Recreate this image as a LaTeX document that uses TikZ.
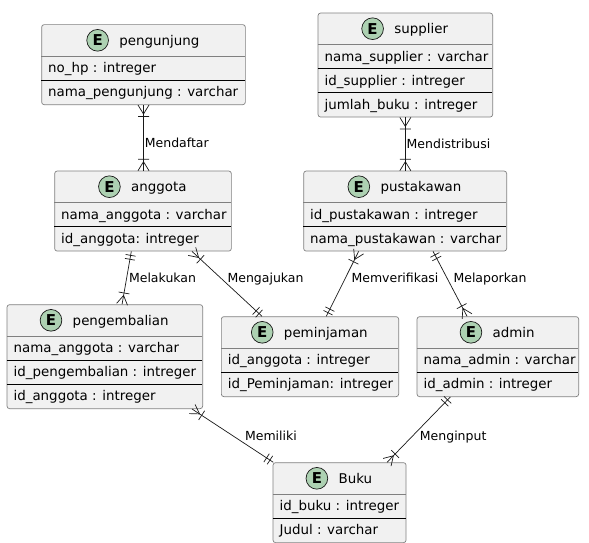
\documentclass[tikz,border=0pt]{standalone}
\usepackage{fontspec}
\setmainfont{DejaVu Sans}
\usetikzlibrary{arrows,shapes,decorations.markings}
\definecolor{boxfill}{HTML}{F1F1F1}
\definecolor{badgefill}{HTML}{ADD1B2}
\definecolor{linecol}{HTML}{181818}
\tikzstyle{entity}=[draw=black!50,fill=boxfill,line width=0.7pt,rounded corners=2.5pt,anchor=north west,inner sep=0pt]
\tikzstyle{headsep}=[draw=black!50,line width=0.7pt]
\tikzstyle{rowsep}=[draw=black,line width=0.8pt]
\tikzstyle{etitle}=[anchor=base,inner sep=0pt,font=\fontsize{13.4}{16}\selectfont]
\tikzstyle{badge}=[circle,draw=linecol,fill=badgefill,minimum size=21.7pt,inner sep=0pt,line width=0.7pt,font=\fontsize{15}{18}\selectfont\bfseries]
\tikzstyle{attr}=[anchor=base west,inner sep=0pt,font=\fontsize{13.4}{16}\selectfont]
\tikzstyle{rel}=[draw=linecol,line width=0.7pt]
\tikzstyle{lab}=[anchor=west,inner sep=0pt,text height=9pt,text depth=0pt,font=\fontsize{12.5}{15}\selectfont]
\tikzstyle{manyA}=[postaction={decorate,decoration={markings,mark=at position 0 with {\draw[rel] (9,0) -- (0,5.5) (9,0) -- (0,-5.5) (11.5,-5.5) -- (11.5,5.5);}}}]
\tikzstyle{manyB}=[postaction={decorate,decoration={markings,mark=at position 1 with {\draw[rel] (-9,0) -- (0,5.5) (-9,0) -- (0,-5.5) (-11.5,-5.5) -- (-11.5,5.5);}}}]
\tikzstyle{oneA}=[postaction={decorate,decoration={markings,mark=at position 0 with {\draw[rel] (4,-5) -- (4,5) (8,-5) -- (8,5);}}}]
\tikzstyle{oneB}=[postaction={decorate,decoration={markings,mark=at position 1 with {\draw[rel] (-4,-5) -- (-4,5) (-8,-5) -- (-8,5);}}}]

\begin{document}
\begin{tikzpicture}[x=1pt,y=-1pt]
    \useasboundingbox (0,0) rectangle (589,543);
    % First we draw the entities with their fields
    \foreach \name/\x/\y/\w/\n/\rows in {
        pengunjung/41.3/24.3/203.7/2/{no\_hp : intreger, nama\_pengunjung : varchar},
        supplier/317.7/12.7/174.6/3/{nama\_supplier : varchar, id\_supplier : intreger, jumlah\_buku : intreger},
        anggota/54.3/170.7/176.7/2/{nama\_anggota : varchar, id\_anggota: intreger},
        pustakawan/303.3/170.7/203/2/{id\_pustakawan : intreger, nama\_pustakawan : varchar},
        pengembalian/6.7/304.3/195.6/3/{nama\_anggota : varchar, id\_pengembalian : intreger, id\_anggota : intreger},
        peminjaman/221/316.3/177.3/2/{id\_anggota : intreger, id\_Peminjaman: intreger},
        admin/416.7/316.3/161.6/2/{nama\_admin : varchar, id\_admin : intreger},
        Buku/272.7/462.3/133/2/{id\_buku : intreger, Judul : varchar}}
    {
        \node[entity,minimum width=\w pt,minimum height={32pt+24pt*\n}] (\name) at (\x,\y) {};
        \draw[headsep] (\name.north west) ++(0,32) -- ++(\w,0);
        \foreach \i in {2,...,\n}
            \draw[rowsep] (\name.north west) ++(0,8+24*\i) -- ++(\w,0);
        \node[etitle] (\name-t) at (\x+\w/2,\y+21) {\hspace*{32.4pt}\name};
        \node[badge] (\name-c) at ([xshift=10.85pt,yshift=5pt]\name-t.base west) {E};
        \foreach \row [count=\i] in \rows
            \node[attr] (\name-\i) at (\x+6.7,\y+24*\i+24.4) {\row};
    }

    % Connect entities with relations
    \draw[rel,manyA,manyB] (pengunjung.south) -- (pengunjung.south |- anggota.north) node[lab,pos=0.585,xshift=1pt] {Mendaftar};
    \draw[rel,manyA,manyB] (supplier.south) -- (supplier.south |- pustakawan.north) node[lab,pos=0.49,xshift=1pt] {Mendistribusi};
    \draw[rel,oneA,manyB] ([xshift=-11.7pt]anggota.south) -- ([xshift=17.2pt]pengembalian.north) node[lab,pos=0.5,xshift=2pt] {Melakukan};
    \draw[rel,manyA,oneB] ([xshift=49pt]anggota.south) -- ([xshift=-48pt]peminjaman.north) node[lab,pos=0.41,xshift=6.5pt] {Mengajukan};
    \draw[rel,manyA,oneB] ([xshift=-46.5pt]pustakawan.south) -- ([xshift=16.3pt]peminjaman.north) node[lab,pos=0.41,xshift=5.8pt] {Memverifikasi};
    \draw[rel,oneA,manyB] ([xshift=27.9pt]pustakawan.south) -- ([xshift=-30.8pt]admin.north) node[lab,pos=0.41,xshift=6.2pt] {Melaporkan};
    \draw[rel,manyA,oneB] ([xshift=87.2pt]pengembalian.south) -- ([xshift=0.6pt]Buku.north west) node[lab,pos=0.507,xshift=11.5pt] {Memiliki};
    \draw[rel,oneA,manyB] ([xshift=-47.5pt]admin.south) -- ([xshift=47.5pt]Buku.north) node[lab,pos=0.597,xshift=7pt] {Menginput};
\end{tikzpicture}
\end{document}
